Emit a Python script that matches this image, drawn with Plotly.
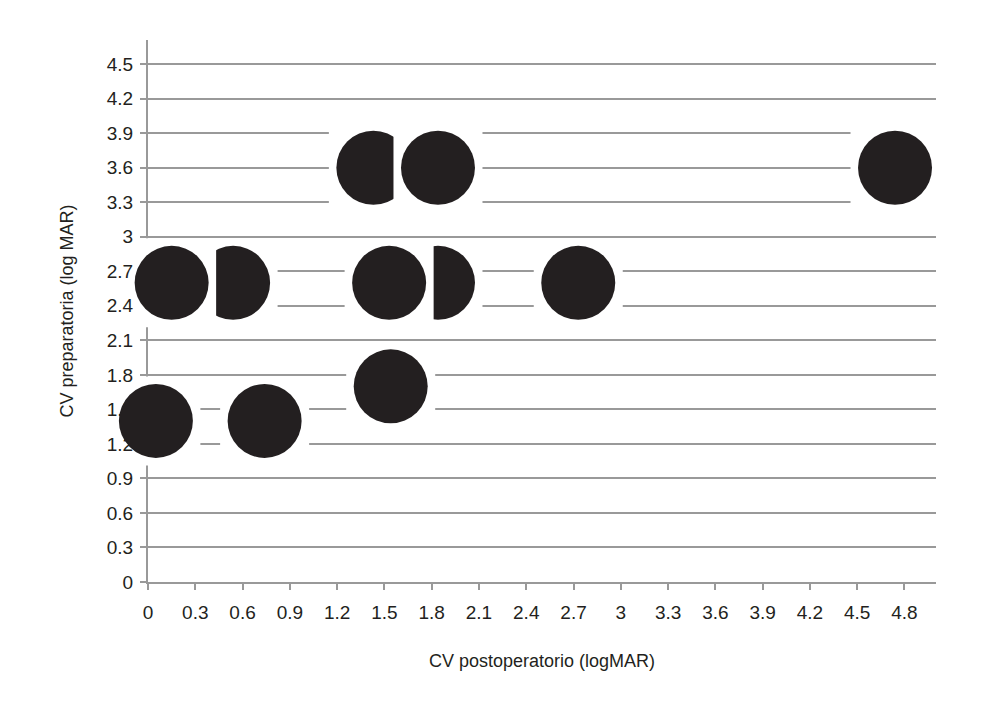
import plotly.graph_objects as go

# CV postoperatorio / preoperatoria (logMAR)
# points partly hidden behind a neighbour
back_post = [1.43, 0.54, 1.84]
back_pre = [3.6, 2.6, 2.6]
# points drawn in front
front_post = [1.84, 4.74, 0.15, 1.53, 2.73, 1.54, 0.05, 0.74]
front_pre = [3.6, 3.6, 2.6, 2.6, 2.6, 1.7, 1.4, 1.4]

x_ticks = [0, 0.3, 0.6, 0.9, 1.2, 1.5, 1.8, 2.1, 2.4, 2.7, 3, 3.3, 3.6, 3.9, 4.2, 4.5, 4.8]
y_ticks = [0, 0.3, 0.6, 0.9, 1.2, 1.5, 1.8, 2.1, 2.4, 2.7, 3, 3.3, 3.6, 3.9, 4.2, 4.5]

grey = '#999999'
ink = '#231f20'
font_name = 'Liberation Sans'
y_range = (0, 4.71)

data = []
# each group: white square knockout first, then the black dot on top
for xs, ys in [(back_post, back_pre), (front_post, front_pre)]:
    data.append(go.Scatter(
        x=xs, y=ys, mode='markers', cliponaxis=False, hoverinfo='skip',
        marker=dict(symbol='square', size=89, color='white', line=dict(width=0)),
        showlegend=False
    ))
    data.append(go.Scatter(
        x=xs, y=ys, mode='markers', cliponaxis=False,
        marker=dict(symbol='circle', size=74, color=ink, line=dict(width=0)),
        showlegend=False
    ))

# invisible trace so the label-only axis gets drawn
data.append(go.Scatter(
    x=front_post[:1], y=front_pre[:1], yaxis='y2', mode='markers',
    marker=dict(opacity=0), hoverinfo='skip', showlegend=False
))

layout = go.Layout(
    xaxis=dict(
        title=dict(text='CV postoperatorio (logMAR)', standoff=33,
                   font=dict(size=18, color=ink, family=font_name)),
        range=(0, 5.0),
        tickvals=x_ticks,
        ticktext=[str(t) for t in x_ticks],
        showgrid=False,
        zeroline=False,
        showline=True, linecolor=grey, linewidth=2,
        ticks='outside', ticklen=6, tickwidth=2, tickcolor=grey,
        tickfont=dict(size=19, color=ink, family=font_name),
        ticklabelstandoff=6,
        layer='below traces'
    ),
    # grid, line and ticks sit under the dots
    yaxis=dict(
        range=y_range,
        tickvals=y_ticks,
        showticklabels=False,
        showgrid=True, gridcolor=grey, gridwidth=2,
        zeroline=False,
        showline=True, linecolor=grey, linewidth=2,
        ticks='outside', ticklen=6, tickwidth=2, tickcolor=grey,
        layer='below traces'
    ),
    # labels and title only, above the white knockouts (black dots still hide them)
    yaxis2=dict(
        overlaying='y',
        side='left',
        title=dict(text='CV preparatoria (log MAR)', standoff=28,
                   font=dict(size=18, color=ink, family=font_name)),
        range=y_range,
        tickvals=y_ticks,
        ticktext=[str(t) for t in y_ticks],
        showgrid=False,
        zeroline=False,
        showline=False,
        ticks='outside', ticklen=6, tickwidth=2, tickcolor='rgba(0,0,0,0)',
        tickfont=dict(size=19, color=ink, family=font_name),
        ticklabelstandoff=4,
        layer='above traces'
    ),
    plot_bgcolor='white',
    paper_bgcolor='white',
    margin=dict(l=140, r=43, t=32, b=114),
    width=971,
    height=688
)

fig = go.Figure(data=data, layout=layout)
fig.write_html("out.html")
